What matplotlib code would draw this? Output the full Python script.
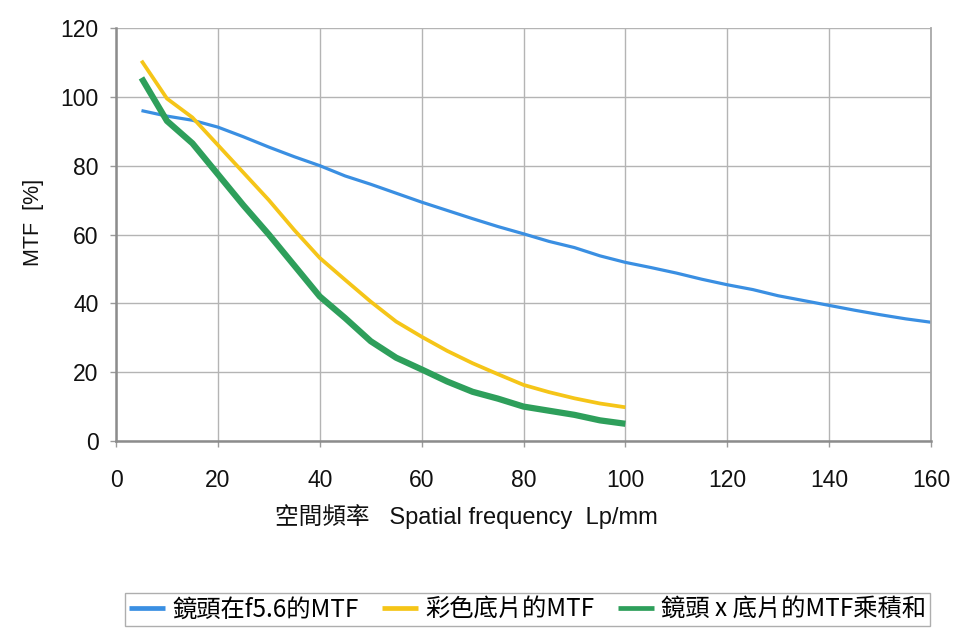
import matplotlib
matplotlib.use("Agg")
import matplotlib.pyplot as plt

# Data
freq_lens = [5, 10, 15, 20, 25, 30, 35, 40, 45, 50, 55, 60, 65, 70, 75, 80,
             85, 90, 95, 100, 105, 110, 115, 120, 125, 130, 135, 140, 145, 150, 155, 160]
mtf_lens = [96, 94.4, 93.2, 91.2, 88.4, 85.4, 82.6, 80, 77, 74.6, 72, 69.4, 67, 64.6, 62.3, 60.2,
            58, 56.2, 53.8, 51.9, 50.4, 48.8, 47, 45.4, 44, 42.2, 40.8, 39.4, 38, 36.7, 35.5, 34.5]

freq_film = [5, 10, 15, 20, 25, 30, 35, 40, 45, 50, 55, 60, 65, 70, 75, 80, 85, 90, 95, 100]
mtf_film = [110.5, 99.5, 94, 86, 78, 70, 61.3, 53.2, 46.8, 40.5, 34.7, 30.3, 26.2, 22.6, 19.4,
            16.3, 14.2, 12.4, 10.9, 9.8]
mtf_product = [105.5, 93, 86.5, 77.5, 68.5, 60, 51, 42, 35.7, 29, 24.2, 20.8, 17.3, 14.3, 12.3,
               10, 8.8, 7.6, 6, 5]

labels = ["鏡頭在f5.6的MTF", "彩色底片的MTF", "鏡頭 x 底片的MTF乘積和"]
colors = ["#3a8fe2", "#f5c518", "#2e9f5b"]

latin = ["Liberation Sans", "Noto Sans CJK TC", "DejaVu Sans"]
cjk = ["Noto Sans CJK TC", "DejaVu Sans"]

fig = plt.figure(figsize=(9.63, 6.28), dpi=100)
ax = fig.add_axes([116 / 963, 1 - 441 / 628, 815 / 963, 413 / 628])

l1, = ax.plot(freq_lens, mtf_lens, color=colors[0], lw=2.3, solid_capstyle="butt")
l2, = ax.plot(freq_film, mtf_film, color=colors[1], lw=2.7, solid_capstyle="butt")
l3, = ax.plot(freq_film, mtf_product, color=colors[2], lw=4.5, solid_capstyle="butt")

ax.set_xlim(0, 160)
ax.set_ylim(0, 120)
ax.set_xticks(range(0, 161, 20))
ax.set_yticks(range(0, 121, 20))
ax.grid(True, color="#b4b4b4", lw=1.0)
ax.set_axisbelow(True)
ax.spines["top"].set_visible(False)
ax.spines["right"].set_color("#a8a8a8")
ax.spines["right"].set_linewidth(1.3)
for s in ["left", "bottom"]:
    ax.spines[s].set_color("#8c8c8c")
    ax.spines[s].set_linewidth(1.8)
ax.tick_params(axis="both", direction="out", length=4.5, width=1.0, color="#9a9a9a",
               labelsize=16.5, labelcolor="#111111")
ax.tick_params(axis="x", pad=16)
ax.tick_params(axis="y", pad=8)
for t in ax.get_xticklabels() + ax.get_yticklabels():
    t.set_family(latin)

fig.text(33 / 963, 1 - 222 / 628, "MTF  [%]", rotation=90, ha="center", va="center",
         fontsize=15.5, family=latin, color="#111111")
fig.text(466 / 963, 1 - 517 / 628, "空間頻率   Spatial frequency  Lp/mm", ha="center",
         va="center", fontsize=17, family=latin, color="#111111")

leg = fig.legend([l1, l2, l3], labels, loc="lower left", ncol=3, mode="expand",
                 bbox_to_anchor=(125 / 963, 2 / 628, 805 / 963, 38 / 628),
                 frameon=True, fancybox=False, handlelength=1.5, handletextpad=0.3,
                 borderaxespad=0, borderpad=0.15, prop={"family": cjk, "size": 17.5})
leg.get_frame().set_edgecolor("#9a9a9a")
leg.get_frame().set_linewidth(1.0)
for h in leg.get_lines():
    h.set_linewidth(3.4)

fig.savefig("out.png", dpi=100)
